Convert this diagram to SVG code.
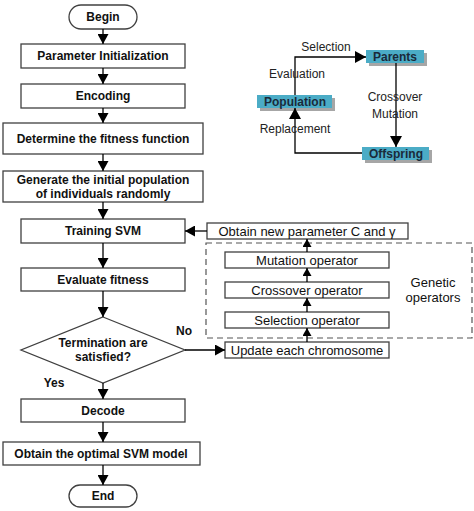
<svg xmlns="http://www.w3.org/2000/svg" width="474" height="511" viewBox="0 0 474 511">
<defs>
<marker id="ah" markerUnits="userSpaceOnUse" markerWidth="11" markerHeight="11" refX="10" refY="5.5" orient="auto"><path d="M0,0 L10,5.5 L0,11 z" fill="#000"/></marker>
<marker id="as" markerUnits="userSpaceOnUse" markerWidth="9" markerHeight="9" refX="8" refY="4.5" orient="auto"><path d="M0,0 L8,4.5 L0,9 z" fill="#000"/></marker>
<marker id="at" markerUnits="userSpaceOnUse" markerWidth="12" markerHeight="12" refX="11" refY="6" orient="auto"><path d="M0,0 L11,6 L0,12 z" fill="#000"/></marker>
</defs>
<style>
.box{fill:#fff;stroke:#404040;stroke-width:1.3}
.b{font-family:"Liberation Sans",Arial,sans-serif;font-size:12px;font-weight:bold;fill:#111;text-anchor:middle}
.r{font-family:"Liberation Sans",Arial,sans-serif;font-size:13px;fill:#111;text-anchor:middle}
.s{font-family:"Liberation Sans",Arial,sans-serif;font-size:12px;fill:#222;text-anchor:middle}
.teal{fill:#4bacc6}
.sh{fill:#a6a6a6}
.tt{font-family:"Liberation Sans",Arial,sans-serif;font-size:12px;font-weight:bold;fill:#1a2a3a;text-anchor:middle}
.c{stroke:#000;stroke-width:1.3;fill:none}
</style>
<g id="begin"><rect class="box" x="69" y="5" width="68" height="24" rx="12"/><text class="b" x="103" y="21">Begin</text></g>
<g id="param"><rect class="box" x="21" y="44" width="164" height="24"/><text class="b" x="103" y="60">Parameter Initialization</text></g>
<g id="encoding"><rect class="box" x="21" y="84" width="164" height="24"/><text class="b" x="103" y="100">Encoding</text></g>
<g id="fitnessfn"><rect class="box" x="3" y="123" width="200" height="31"/><text class="b" x="103" y="143">Determine the fitness function</text></g>
<g id="generate"><rect class="box" x="3" y="171" width="200" height="31"/><text class="b" x="103" y="184">Generate the initial population</text><text class="b" x="103" y="198">of individuals randomly</text></g>
<g id="training"><rect class="box" x="21" y="219" width="164" height="24"/><text class="b" x="103" y="235">Training SVM</text></g>
<g id="evaluate"><rect class="box" x="21" y="268" width="164" height="23"/><text class="b" x="103" y="284">Evaluate fitness</text></g>
<g id="termination"><polygon class="box" points="103,317 185,350 103,383 21,350"/><text class="b" x="103" y="347">Termination are</text><text class="b" x="103" y="361">satisfied?</text></g>
<g id="decode"><rect class="box" x="21" y="399" width="164" height="23"/><text class="b" x="103" y="415">Decode</text></g>
<g id="optimal"><rect class="box" x="3" y="442" width="197" height="23"/><text class="b" x="101" y="458">Obtain the optimal SVM model</text></g>
<g id="end"><rect class="box" x="69" y="485" width="68" height="22" rx="11"/><text class="b" x="103" y="500">End</text></g>
<g id="obtainnew"><rect class="box" x="207" y="223" width="201" height="16"/><text class="r" x="307" y="236">Obtain new parameter C and γ</text></g>
<g id="genetic"><rect x="206" y="243" width="266" height="95" fill="none" stroke="#555" stroke-width="1.2" stroke-dasharray="6,4"/><text class="r" x="433" y="287">Genetic</text><text class="r" x="433" y="302">operators</text></g>
<g id="mutation"><rect class="box" x="225" y="252" width="164" height="16"/><text class="r" x="307" y="265">Mutation operator</text></g>
<g id="crossover"><rect class="box" x="225" y="282" width="164" height="16"/><text class="r" x="307" y="295">Crossover operator</text></g>
<g id="selection"><rect class="box" x="225" y="312" width="164" height="16"/><text class="r" x="307" y="325">Selection operator</text></g>
<g id="update"><rect class="box" x="225" y="342" width="164" height="16"/><text class="r" x="307" y="355">Update each chromosome</text></g>
<g id="parents"><rect class="sh" x="369" y="53" width="58" height="13"/><rect class="teal" x="366" y="50" width="58" height="13"/><text class="tt" x="395" y="61">Parents</text></g>
<g id="population"><rect class="sh" x="260" y="98" width="75" height="13"/><rect class="teal" x="257" y="95" width="75" height="13"/><text class="tt" x="295" y="106">Population</text></g>
<g id="offspring"><rect class="sh" x="365" y="150" width="67" height="13"/><rect class="teal" x="362" y="147" width="67" height="13"/><text class="tt" x="396" y="158">Offspring</text></g>
<g id="connectors">
<path class="c" d="M103,29V44" marker-end="url(#ah)"/>
<path class="c" d="M103,68V84" marker-end="url(#ah)"/>
<path class="c" d="M103,108V123" marker-end="url(#ah)"/>
<path class="c" d="M103,154V171" marker-end="url(#ah)"/>
<path class="c" d="M103,202V219" marker-end="url(#ah)"/>
<path class="c" d="M103,243V268" marker-end="url(#ah)"/>
<path class="c" d="M103,291V317" marker-end="url(#ah)"/>
<path class="c" d="M103,383V399" marker-end="url(#ah)"/>
<path class="c" d="M103,422V442" marker-end="url(#ah)"/>
<path class="c" d="M103,465V485" marker-end="url(#ah)"/>
<path class="c" d="M185,350H225" marker-end="url(#ah)"/>
<path class="c" d="M207,231H185" marker-end="url(#ah)"/>
<path class="c" d="M307,342V328" marker-end="url(#as)"/>
<path class="c" d="M307,312V298" marker-end="url(#as)"/>
<path class="c" d="M307,282V268" marker-end="url(#as)"/>
<path class="c" d="M307,252V239" marker-end="url(#as)"/>
<path class="c" d="M295,95V57H366" marker-end="url(#at)"/>
<path class="c" d="M396,63V147" marker-end="url(#at)"/>
<path class="c" d="M362,153H295V108" marker-end="url(#at)"/>
<text class="b" x="184" y="335">No</text>
<text class="b" x="54" y="387">Yes</text>
<text class="s" x="326" y="51">Selection</text>
<text class="s" x="297" y="78">Evaluation</text>
<text class="s" x="395" y="101">Crossover</text>
<text class="s" x="395" y="118">Mutation</text>
<text class="s" x="295" y="133">Replacement</text>
</g>
</svg>
